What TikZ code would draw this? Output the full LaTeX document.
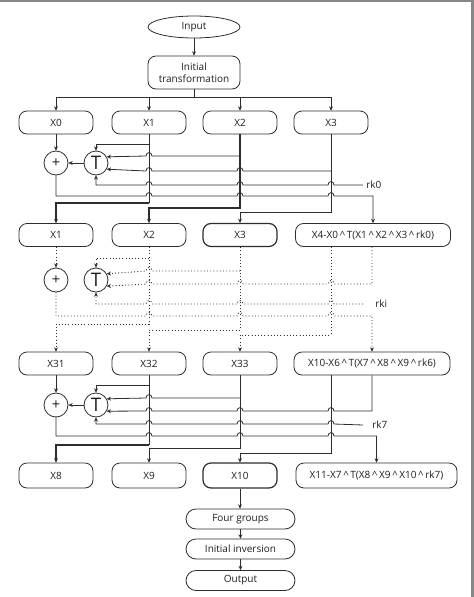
\documentclass[tikz,border=0pt]{standalone}
\usepackage{fontspec}
\setmainfont{Open Sans}
\usetikzlibrary{arrows.meta,shapes.geometric,calc}
\definecolor{lc}{RGB}{45,45,45}
\definecolor{tc}{RGB}{30,30,30}
\definecolor{fr}{RGB}{135,135,135}
\newcommand{\hc}{\,\textasciicircum\,}
\begin{document}
\begin{tikzpicture}[x=0.75pt,y=-0.75pt,
  font=\fontsize{7.5}{9}\selectfont,
  box/.style={draw=lc, line width=0.6pt, rounded corners=6pt, minimum width=55.5pt, minimum height=17.25pt, inner sep=0pt, text=tc},
  pill/.style={box, rounded corners=7.5pt, minimum width=81.75pt, minimum height=15pt},
  op/.style={circle, draw=lc, line width=0.6pt, minimum size=18pt, inner sep=0pt, text=tc},
  plus/.style={op, font=\fontsize{11}{11}\selectfont},
  tee/.style={op, font=\fontsize{14}{14}\selectfont},
  plain/.style={draw=lc, line width=0.6pt},
  conn/.style={plain, -{Stealth[length=3.2pt,width=3pt]}},
  heavy/.style={line width=0.9pt},
  dots/.style={line width=0.7pt, dash pattern=on 0.7pt off 1.7pt},
  lbl/.style={inner sep=0pt, text=tc, anchor=west}
]
\useasboundingbox (0,0) rectangle (474,597);
\fill[fr] (0,0) rectangle (474,2);
\fill[fr] (471,0) rectangle (474,597);

% top
\node[ellipse, draw=lc, line width=0.6pt, minimum width=69pt, minimum height=16.5pt, inner sep=0pt, text=tc] (in) at (194,27) {Input};
\node[box, minimum width=69pt, minimum height=24.75pt, align=center] (it) at (194,72.5) {Initial\\transformation};

% rows
\node[box] (a0) at (56,122.5) {X0};
\node[box] (a1) at (149,122.5) {X1};
\node[box] (a2) at (240,122.5) {X2};
\node[box] (a3) at (331,122.5) {X3};

\node[box] (b0) at (56,235) {X1};
\node[box] (b1) at (149,235) {X2};
\node[box, heavy] (b2) at (240,235) {X3};
\node[box, minimum width=116.25pt] (b3) at (373,235) {X4-X0\hc T(X1\hc X2\hc X3\hc rk0)};

\node[box] (c0) at (56,363.5) {X31};
\node[box] (c1) at (149,363.5) {X32};
\node[box] (c2) at (240,363.5) {X33};
\node[box, minimum width=117pt] (c3) at (372,363.5) {X10-X6\hc T(X7\hc X8\hc X9\hc rk6)};

\node[box, minimum height=18.75pt] (d0) at (56,475.5) {X8};
\node[box, minimum height=18.75pt] (d1) at (149,475.5) {X9};
\node[box, heavy, minimum height=18.75pt] (d2) at (240,475.5) {X10};
\node[box, minimum height=18.75pt, minimum width=120.75pt] (d3) at (376.5,475.5) {X11-X7\hc T(X8\hc X9\hc X10\hc rk7)};

\node[pill] (fg) at (240.5,519) {Four groups};
\node[pill] (ii) at (240.5,549) {Initial inversion};
\node[pill] (out) at (240.5,580.5) {Output};

% operators
\node[plus] (p1) at (56,163) {+};
\node[tee] (t1) at (96,163) {T};
\node[plus] (p2) at (56,280) {+};
\node[tee] (t2) at (96,280) {T};
\node[plus] (p3) at (56,405) {+};
\node[tee] (t3) at (96,405) {T};

% labels
\node[lbl] (rk0) at (366,185) {rk0};
\node[lbl] (rki) at (375,304) {rki};
\node[lbl] (rk7) at (372,425) {rk7};

% top connectors
\draw[conn] (in) -- (it);
\coordinate (sp) at (194,97);
\draw[plain] (it.south) -- (sp);
\draw[plain] (a0.north |- sp) -- (a3.north |- sp);
\foreach \n in {a0,a1,a2,a3} \draw[conn] (\n.north |- sp) -- (\n.north);

% ---------- round 1 ----------
\draw[conn] (a0.south) -- (p1.north);
\draw[conn] (a1.south |- 0,144) -| (t1.north);
\draw[plain] (a1.south) -- (a1.south |- 0,203);
\draw[conn, heavy] (a1.south |- 0,203) -| (b0.north);
\draw[conn, heavy] (a2.south) -- (a2.south |- 0,208) -| (b1.north);
\draw[conn] (a3.south) -- (a3.south |- 0,212) -| (b2.north);
\draw[conn] (a2.south |- 0,156) \foreach \h in {149}{ -- (\h+3,156) .. controls (\h+3,151.5) and (\h-3,151.5) .. (\h-3,156)} -- (t1.30);
\draw[conn] (a3.south |- 0,171) \foreach \h in {240,149}{ -- (\h+3,171) .. controls (\h+3,166.5) and (\h-3,166.5) .. (\h-3,171)} -- (t1.-30);
\draw[conn] ($(rk0.west)+(-3,0)$) \foreach \h in {331,240,149}{ -- (\h+3,185) .. controls (\h+3,180.5) and (\h-3,180.5) .. (\h-3,185)} -| (t1.south);
\draw[conn] (t1) -- (p1);
\draw[conn] (p1.south) -- (56,196) \foreach \h in {149,240,331}{ -- (\h-3,196) .. controls (\h-3,191.5) and (\h+3,191.5) .. (\h+3,196)} -| (b3.north);

% ---------- dotted rounds ----------
\draw[conn, dots] (b0.south) -- (p2.north);
\draw[conn, dots] (b1.south |- 0,258) -| (t2.north);
\draw[conn, dots] (b1.south) -- (b1.south |- 0,324) -| (c0.north);
\draw[conn, dots] (b2.south) -- (b2.south |- 0,330) -| (c1.north);
\draw[conn, dots] (331,247) -- (331,335) -| (c2.north);
\draw[conn, dots] (b2.south |- 0,271) \foreach \h in {149}{ -- (\h+3,271) .. controls (\h+3,266.5) and (\h-3,266.5) .. (\h-3,271)} -- (t2.30);
\draw[conn, dots] (372,247) -- (372,284) \foreach \h in {331,240,149}{ -- (\h+3,284) .. controls (\h+3,279.5) and (\h-3,279.5) .. (\h-3,284)} -- (t2.-30);
\draw[conn, dots] ($(rki.west)+(-12,0)$) \foreach \h in {331,240,149}{ -- (\h+3,304) .. controls (\h+3,299.5) and (\h-3,299.5) .. (\h-3,304)} -| (t2.south);
\draw[conn, dots] (p2.south) -- (56,316) \foreach \h in {149,240,331}{ -- (\h-3,316) .. controls (\h-3,311.5) and (\h+3,311.5) .. (\h+3,316)} -| (c3.north);

% ---------- round 3 ----------
\draw[conn] (c0.south) -- (p3.north);
\draw[conn] (c1.south |- 0,385) -| (t3.north);
\draw[plain] (c1.south) -- (c1.south |- 0,445);
\draw[conn, heavy] (c1.south |- 0,445) -| (d0.north);
\draw[conn] (c2.south) -- (c2.south |- 0,448) -| (d1.north);
\draw[conn] (331,375) -- (331,453) -| (d2.north);
\draw[conn] (c2.south |- 0,398) \foreach \h in {149}{ -- (\h+3,398) .. controls (\h+3,393.5) and (\h-3,393.5) .. (\h-3,398)} -- (t3.30);
\draw[conn] (c3.south) -- (c3.south |- 0,411) \foreach \h in {331,240,149}{ -- (\h+3,411) .. controls (\h+3,406.5) and (\h-3,406.5) .. (\h-3,411)} -- (t3.-30);
\draw[conn] ($(rk7.west)+(-9,0)$) \foreach \h in {331,240,149}{ -- (\h+3,424) .. controls (\h+3,419.5) and (\h-3,419.5) .. (\h-3,424)} -| (t3.south);
\draw[conn] (t3) -- (p3);
\draw[conn] (p3.south) -- (56,436) \foreach \h in {149,240,331}{ -- (\h-3,436) .. controls (\h-3,431.5) and (\h+3,431.5) .. (\h+3,436)} -| (d3.north);

% ---------- bottom ----------
\draw[conn] (d2.south) -- (d2.south |- fg.north);
\draw[conn] (fg) -- (ii);
\draw[conn] (ii) -- (out);
\end{tikzpicture}
\end{document}
